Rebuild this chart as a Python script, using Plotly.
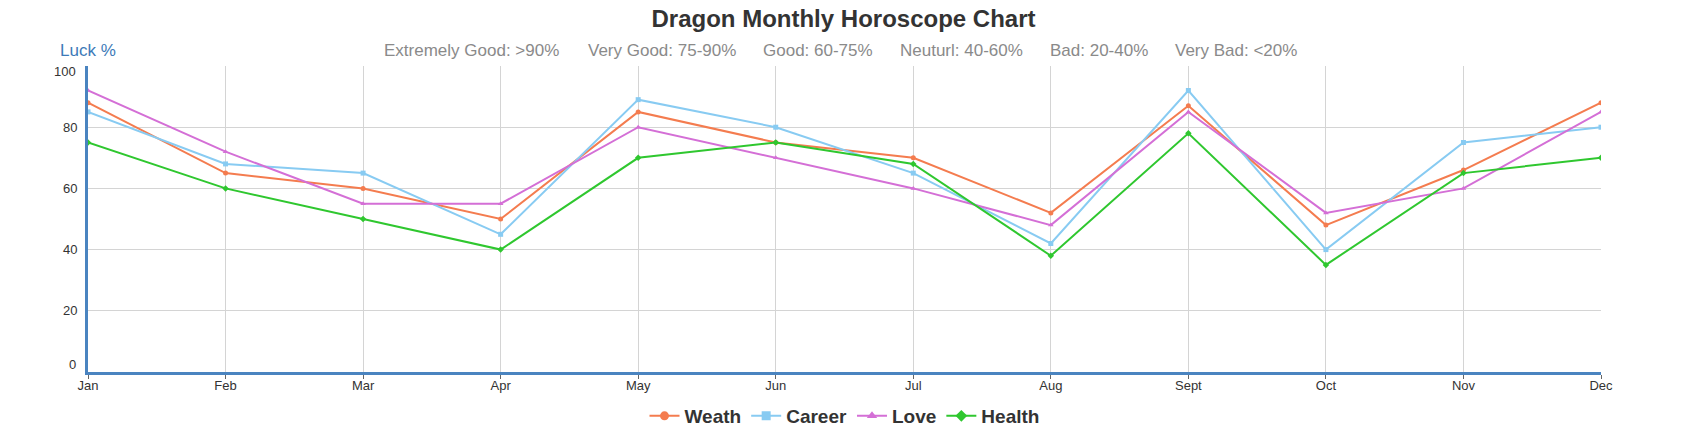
import plotly.graph_objects as go

months = ["Jan", "Feb", "Mar", "Apr", "May", "Jun", "Jul", "Aug", "Sept", "Oct", "Nov", "Dec"]
wealth = [88, 65, 60, 50, 85, 75, 70, 52, 87, 48, 66, 88]
career = [85, 68, 65, 45, 89, 80, 65, 42, 92, 40, 75, 80]
love = [92, 72, 55, 55, 80, 70, 60, 48, 85, 52, 60, 85]
health = [75, 60, 50, 40, 70, 75, 68, 38, 78, 35, 65, 70]
y_ticks = [0, 20, 40, 60, 80, 100]

series = [
    ("Weath", wealth, "#f47c4f", "circle"),
    ("Career", career, "#88cbf2", "square"),
    ("Love", love, "#d46fd6", "triangle-up"),
    ("Health", health, "#2fc72f", "diamond"),
]

bands = ["Extremely Good: >90%", "Very Good: 75-90%", "Good: 60-75%",
         "Neuturl: 40-60%", "Bad: 20-40%", "Very Bad: <20%"]
band_px = [471.5, 661.5, 817.5, 961, 1098.5, 1235.5]

W, H = 1687, 436
ml, mr, mt, mb = 88, 86, 66, 64
pw, ph = W - ml - mr, H - mt - mb


def px_x(px):
    return (px - ml) / pw


def px_y(py):
    return (H - mb - py) / ph


fig = go.Figure()
for name, vals, color, sym in series:
    fig.add_trace(go.Scatter(
        x=months, y=vals, mode="lines+markers", name=name, showlegend=False,
        line=dict(color=color, width=2),
        marker=dict(color=color, size=5, symbol=sym),
    ))
for name, vals, color, sym in series:
    fig.add_trace(go.Scatter(
        x=[None], y=[None], mode="lines+markers", name="<b>" + name + "</b>",
        line=dict(color=color, width=2),
        marker=dict(color=color, size=9, symbol=sym),
    ))

annotations = [dict(text="Luck %", x=px_x(58), y=px_y(51), xref="paper", yref="paper",
                    xanchor="left", yanchor="middle", showarrow=False,
                    font=dict(size=17, color="#3d7ab8"))]
for t, p in zip(bands, band_px):
    annotations.append(dict(text=t, x=px_x(p), y=px_y(51), xref="paper", yref="paper",
                            xanchor="center", yanchor="middle", showarrow=False,
                            font=dict(size=17, color="#8a8a8a")))
# end labels of the y axis sit just inside the plot edge, as in the original
for v, shift in ((y_ticks[0], 8), (y_ticks[-1], -5)):
    annotations.append(dict(text=str(v), x=px_x(78), y=v, xref="paper", yref="y",
                            xanchor="right", yanchor="middle", yshift=shift, showarrow=False,
                            font=dict(size=13, color="#333333")))

ticktext = ["" if v in (y_ticks[0], y_ticks[-1]) else str(v) for v in y_ticks]

fig.update_layout(
    width=W, height=H,
    margin=dict(l=ml, r=mr, t=mt, b=mb, autoexpand=False),
    paper_bgcolor="white", plot_bgcolor="white",
    font=dict(family="Liberation Sans, Arial", color="#333333"),
    title=dict(text="<b>Dragon Monthly Horoscope Chart</b>", x=0.5, xanchor="center",
               y=1 - 18.5 / H, yanchor="middle", yref="container",
               font=dict(size=24, color="#333333")),
    annotations=annotations,
    xaxis=dict(range=[0, 11], showgrid=True, gridcolor="#d4d4d4", gridwidth=1,
               showline=True, linecolor="#4a84c0", linewidth=3,
               ticks="outside", ticklen=4, tickcolor="#666666",
               tickfont=dict(size=13, color="#333333"), zeroline=False, fixedrange=True,
               automargin=False, ticklabelstandoff=-5),
    yaxis=dict(range=[0, 100], tickvals=y_ticks, ticktext=ticktext, showgrid=True,
               gridcolor="#d4d4d4", gridwidth=1, showline=True, linecolor="#4a84c0",
               linewidth=3, ticks="", tickfont=dict(size=13, color="#333333"),
               zeroline=False, ticklabelstandoff=5, automargin=False),
    legend=dict(orientation="h", x=0.5, xanchor="center", y=1 - 416 / H, yanchor="middle",
                yref="container", font=dict(size=19, color="#333333"),
                itemwidth=30, tracegroupgap=0),
)
fig.write_html("out.html")
